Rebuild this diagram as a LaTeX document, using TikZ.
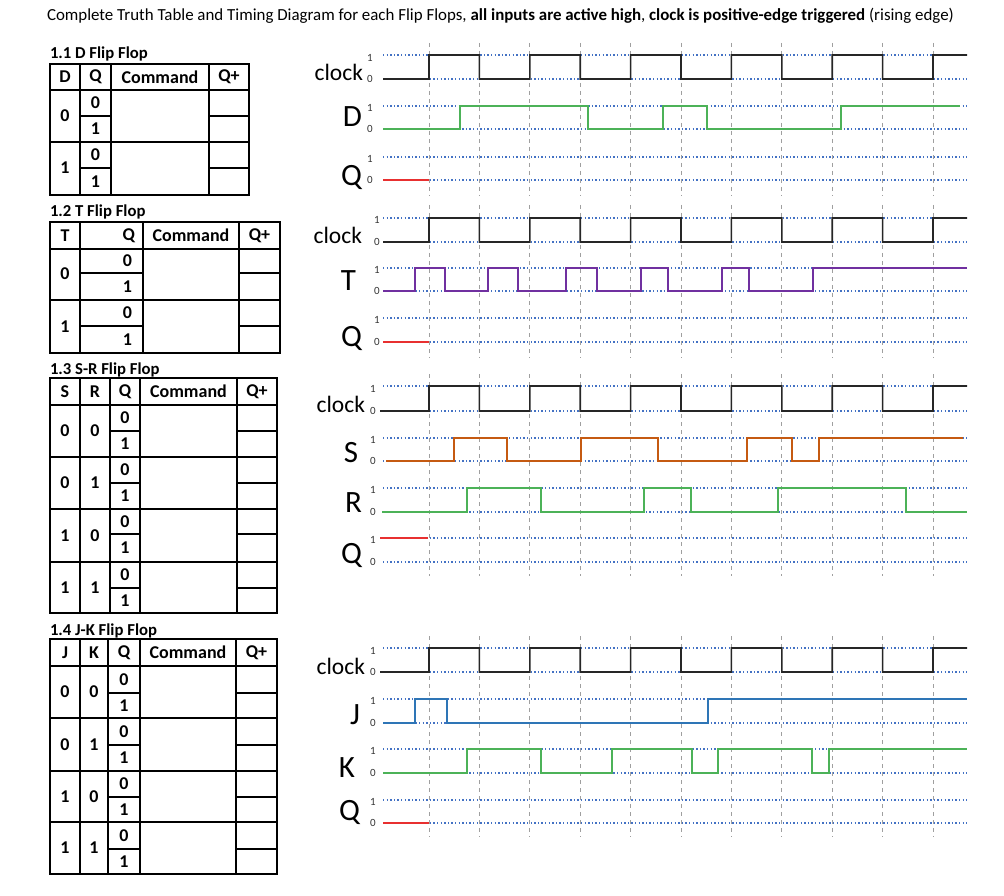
\documentclass[tikz,border=0pt]{standalone}
\usepackage{fontspec}
\setmainfont{Carlito}
\usepackage{xcolor}
\usepackage{tikz}

\definecolor{lvlblue}{RGB}{68,114,196}
\definecolor{wgreen}{RGB}{76,178,88}
\definecolor{wpurple}{RGB}{112,48,160}
\definecolor{worange}{RGB}{197,90,17}
\definecolor{wblue}{RGB}{46,117,182}
\definecolor{wred}{RGB}{232,48,48}

\begin{document}
\begin{tikzpicture}[
    x=1pt, y=-1pt,
    every node/.style={inner sep=0pt, outer sep=0pt},
    cell/.style={font=\fontsize{18}{18}\selectfont\bfseries},
    tabtitle/.style={anchor=west, font=\fontsize{16.7}{16.7}\selectfont\bfseries},
    grid/.style={line width=1.4pt},
    sig/.style={anchor=east, font=\fontsize{31}{31}\selectfont},
    clklabel/.style={anchor=east, font=\fontsize{23.5}{23.5}\selectfont},
    lvl/.style={font=\fontsize{11}{11}\selectfont, text=black!80},
    level/.style={lvlblue, line width=1.1pt, dash pattern=on 1.4pt off 2.2pt},
    edge/.style={gray!75, line width=1pt, dash pattern=on 4pt off 4pt},
    clk/.style={black!85, line width=1.6pt},
    wave/.style={line width=2.1pt}
]
\useasboundingbox (0,0) rectangle (1004,896);

% Title
\node[anchor=west, font=\fontsize{16.9}{16.9}\selectfont] (title) at (47,16)
  {Complete Truth Table and Timing Diagram for each Flip Flops, \textbf{all inputs are active high}, \textbf{clock is positive-edge triggered} (rising edge)};

% 1.1 D table
\node[tabtitle] (ttlD) at (50,54) {1.1 D Flip Flop};
\draw[grid] (50,64) rectangle (249,195);
\draw[grid] (50,90) -- (249,90) (50,142) -- (249,142);
\foreach \x in {80,111,209} \draw[grid] (\x,64) -- (\x,195);
\foreach \y in {116,168} \draw[grid] (80,\y) -- (111,\y) (209,\y) -- (249,\y);
\node[cell] (hdD) at (65,77) {D};
\node[cell] (hdDq) at (95.5,77) {Q};
\node[cell] (hdDcmd) at (160,77) {Command};
\node[cell] (hdDqp) at (229,77) {Q+};
\node[cell] (dD1) at (65,116) {0};
\node[cell] (dD2) at (65,168) {1};
\foreach \v/\y [count=\i] in {0/103,1/129,0/155,1/181.5}
  \node[cell] (qD\i) at (95.5,\y) {\v};

% 1.2 T table
\node[tabtitle] (ttlT) at (50,212) {1.2 T Flip Flop};
\draw[grid] (50,222) rectangle (280,353);
\draw[grid] (50,249) -- (280,249) (50,300) -- (280,300);
\foreach \x in {80,143,239} \draw[grid] (\x,222) -- (\x,353);
\foreach \y in {273,326} \draw[grid] (80,\y) -- (143,\y) (239,\y) -- (280,\y);
\node[cell] (hdT) at (65,235.5) {T};
\node[cell, anchor=east] (hdTq) at (135,235.5) {Q};
\node[cell] (hdTcmd) at (191,235.5) {Command};
\node[cell] (hdTqp) at (259.5,235.5) {Q+};
\node[cell] (tT1) at (65,274) {0};
\node[cell] (tT2) at (65,327) {1};
\foreach \v/\y [count=\i] in {0/261,1/287,0/313,1/339.5}
  \node[cell, anchor=east] (qT\i) at (132,\y) {\v};

% 1.3 S-R table
\node[tabtitle] (ttlSR) at (50,370) {1.3 S-R Flip Flop};
\draw[grid] (50,378) rectangle (277,613);
\foreach \y in {405,457,509,562} \draw[grid] (50,\y) -- (277,\y);
\foreach \x in {80,110,140,237} \draw[grid] (\x,378) -- (\x,613);
\foreach \y in {431,483,534,588} \draw[grid] (110,\y) -- (140,\y) (237,\y) -- (277,\y);
\node[cell] (hdS) at (65,391.5) {S};
\node[cell] (hdR) at (95,391.5) {R};
\node[cell] (hdSRq) at (125,391.5) {Q};
\node[cell] (hdSRcmd) at (188.5,391.5) {Command};
\node[cell] (hdSRqp) at (257,391.5) {Q+};
\foreach \s/\r/\y [count=\i] in {0/0/431,0/1/483,1/0/535.5,1/1/587.5} {
  \node[cell] (sSR\i) at (65,\y) {\s};
  \node[cell] (rSR\i) at (95,\y) {\r};
}
\foreach \v/\y [count=\i] in {0/418,1/444,0/470,1/496,0/521.5,1/548,0/575,1/600.5}
  \node[cell] (qSR\i) at (125,\y) {\v};

% 1.4 J-K table
\node[tabtitle] (ttlJK) at (50,631) {1.4 J-K Flip Flop};
\draw[grid] (50,639) rectangle (277,874);
\foreach \y in {666,718,771,822} \draw[grid] (50,\y) -- (277,\y);
\foreach \x in {80,108,140,236} \draw[grid] (\x,639) -- (\x,874);
\foreach \y in {693,745,797,849} \draw[grid] (108,\y) -- (140,\y) (236,\y) -- (277,\y);
\node[cell] (hdJ) at (65,652.5) {J};
\node[cell] (hdK) at (94,652.5) {K};
\node[cell] (hdJKq) at (124,652.5) {Q};
\node[cell] (hdJKcmd) at (188,652.5) {Command};
\node[cell] (hdJKqp) at (256.5,652.5) {Q+};
\foreach \j/\k/\y [count=\i] in {0/0/692,0/1/744.5,1/0/796.5,1/1/848} {
  \node[cell] (jJK\i) at (65,\y) {\j};
  \node[cell] (kJK\i) at (94,\y) {\k};
}
\foreach \v/\y [count=\i] in {0/679.5,1/705.5,0/731.5,1/758,0/784,1/809.5,0/835.5,1/861.5}
  \node[cell] (qJK\i) at (124,\y) {\v};

% Timing grid: level lines and clock edges
\foreach \y in {55,79,106,129,157,180, 218,242,268,291,318,342,
                386,411,438,461,488,512,538,562, 648,672,699,723,749,773,800,823}
  \draw[level] (383,\y) -- (967,\y);
\foreach \ya/\yb in {43/196, 205/358, 374/576, 636/837}
  \foreach \k in {0,...,10}
    \draw[edge] ({429+\k*50.4},\ya) -- ({429+\k*50.4},\yb);

% 0/1 marks
\foreach \y/\v [count=\i] in {58/1,79/0,108/1,129/0,159/1,180/0}
  \node[lvl] (lvA\i) at (370,\y) {\v};
\foreach \y/\v [count=\i] in {220/1,242/0,270/1,291/0,320/1,342/0}
  \node[lvl] (lvB\i) at (377,\y) {\v};
\foreach \y/\v [count=\i] in {389/1,411/0,440/1,461/0,490/1,512/0,540/1,562/0}
  \node[lvl] (lvC\i) at (373,\y) {\v};
\foreach \y/\v [count=\i] in {651/1,672/0,701/1,723/0,751/1,773/0,802/1,823/0}
  \node[lvl] (lvD\i) at (373,\y) {\v};

% Signal names
\node[clklabel] (clkA) at (363,72) {clock};
\node[sig] (sigD) at (362,117) {D};
\node[sig] (sigQa) at (362,177) {Q};
\node[clklabel] (clkB) at (362,235) {clock};
\node[sig] (sigT) at (356,281) {T};
\node[sig] (sigQb) at (362,338) {Q};
\node[clklabel] (clkC) at (365,404) {clock};
\node[sig] (sigS) at (358,453) {S};
\node[sig] (sigR) at (362,503) {R};
\node[sig] (sigQc) at (362,555) {Q};
\node[clklabel] (clkD) at (365,666) {clock};
\node[sig] (sigJ) at (360,715) {J};
\node[sig] (sigK) at (355,768) {K};
\node[sig] (sigQd) at (360,812) {Q};

% Clocks
\foreach \yh/\yl/\xs in {55/79/383, 218/242/383, 386/411/380, 648/672/380}
  \draw[clk] (\xs,\yl) -- (429,\yl)
    \foreach \k in {0,2,4,6,8} {
      -- ({429+\k*50.4},\yh) -- ({429+(\k+1)*50.4},\yh)
      -- ({429+(\k+1)*50.4},\yl) -- ({429+(\k+2)*50.4},\yl) }
    -- (933,\yh) -- (967,\yh);

% Inputs
\draw[wave, wgreen] (383,129) -| (460,106) -| (588,129) -| (663,106) -| (707,129) -| (841,106) -- (960,106);
\draw[wave, wpurple] (383,291) -| (415,268) -| (445,291) -| (488,268) -| (518,291) -| (566,268) -| (597,291)
  -| (641,268) -| (668,291) -| (722,268) -| (749,291) -| (813,268) -- (967,268);
\draw[wave, worange, line width=2.8pt] (386,461) -| (454,438) -| (507,461) -| (581,438) -| (658,461) -| (747,438)
  -| (792,461) -| (819,438) -- (963,438);
\draw[wave, wgreen] (382,512) -| (467,488) -| (541,512) -| (644,488) -| (691,512) -| (778,488) -| (906,512) -- (967,512);
\draw[wave, wblue] (383,723) -| (415,699) -| (447,723) -| (708,699) -- (967,699);
\draw[wave, wgreen] (383,773) -| (467,749) -| (541,773) -| (612,749) -| (692,773) -| (718,749) -| (812,773)
  -| (829,749) -- (967,749);

% Initial Q
\draw[wave, wred] (383,180) -- (429,180);
\draw[wave, wred] (383,342) -- (429,342);
\draw[wave, wred] (380,538) -- (428,538);
\draw[wave, wred] (383,823) -- (429,823);

\end{tikzpicture}
\end{document}
